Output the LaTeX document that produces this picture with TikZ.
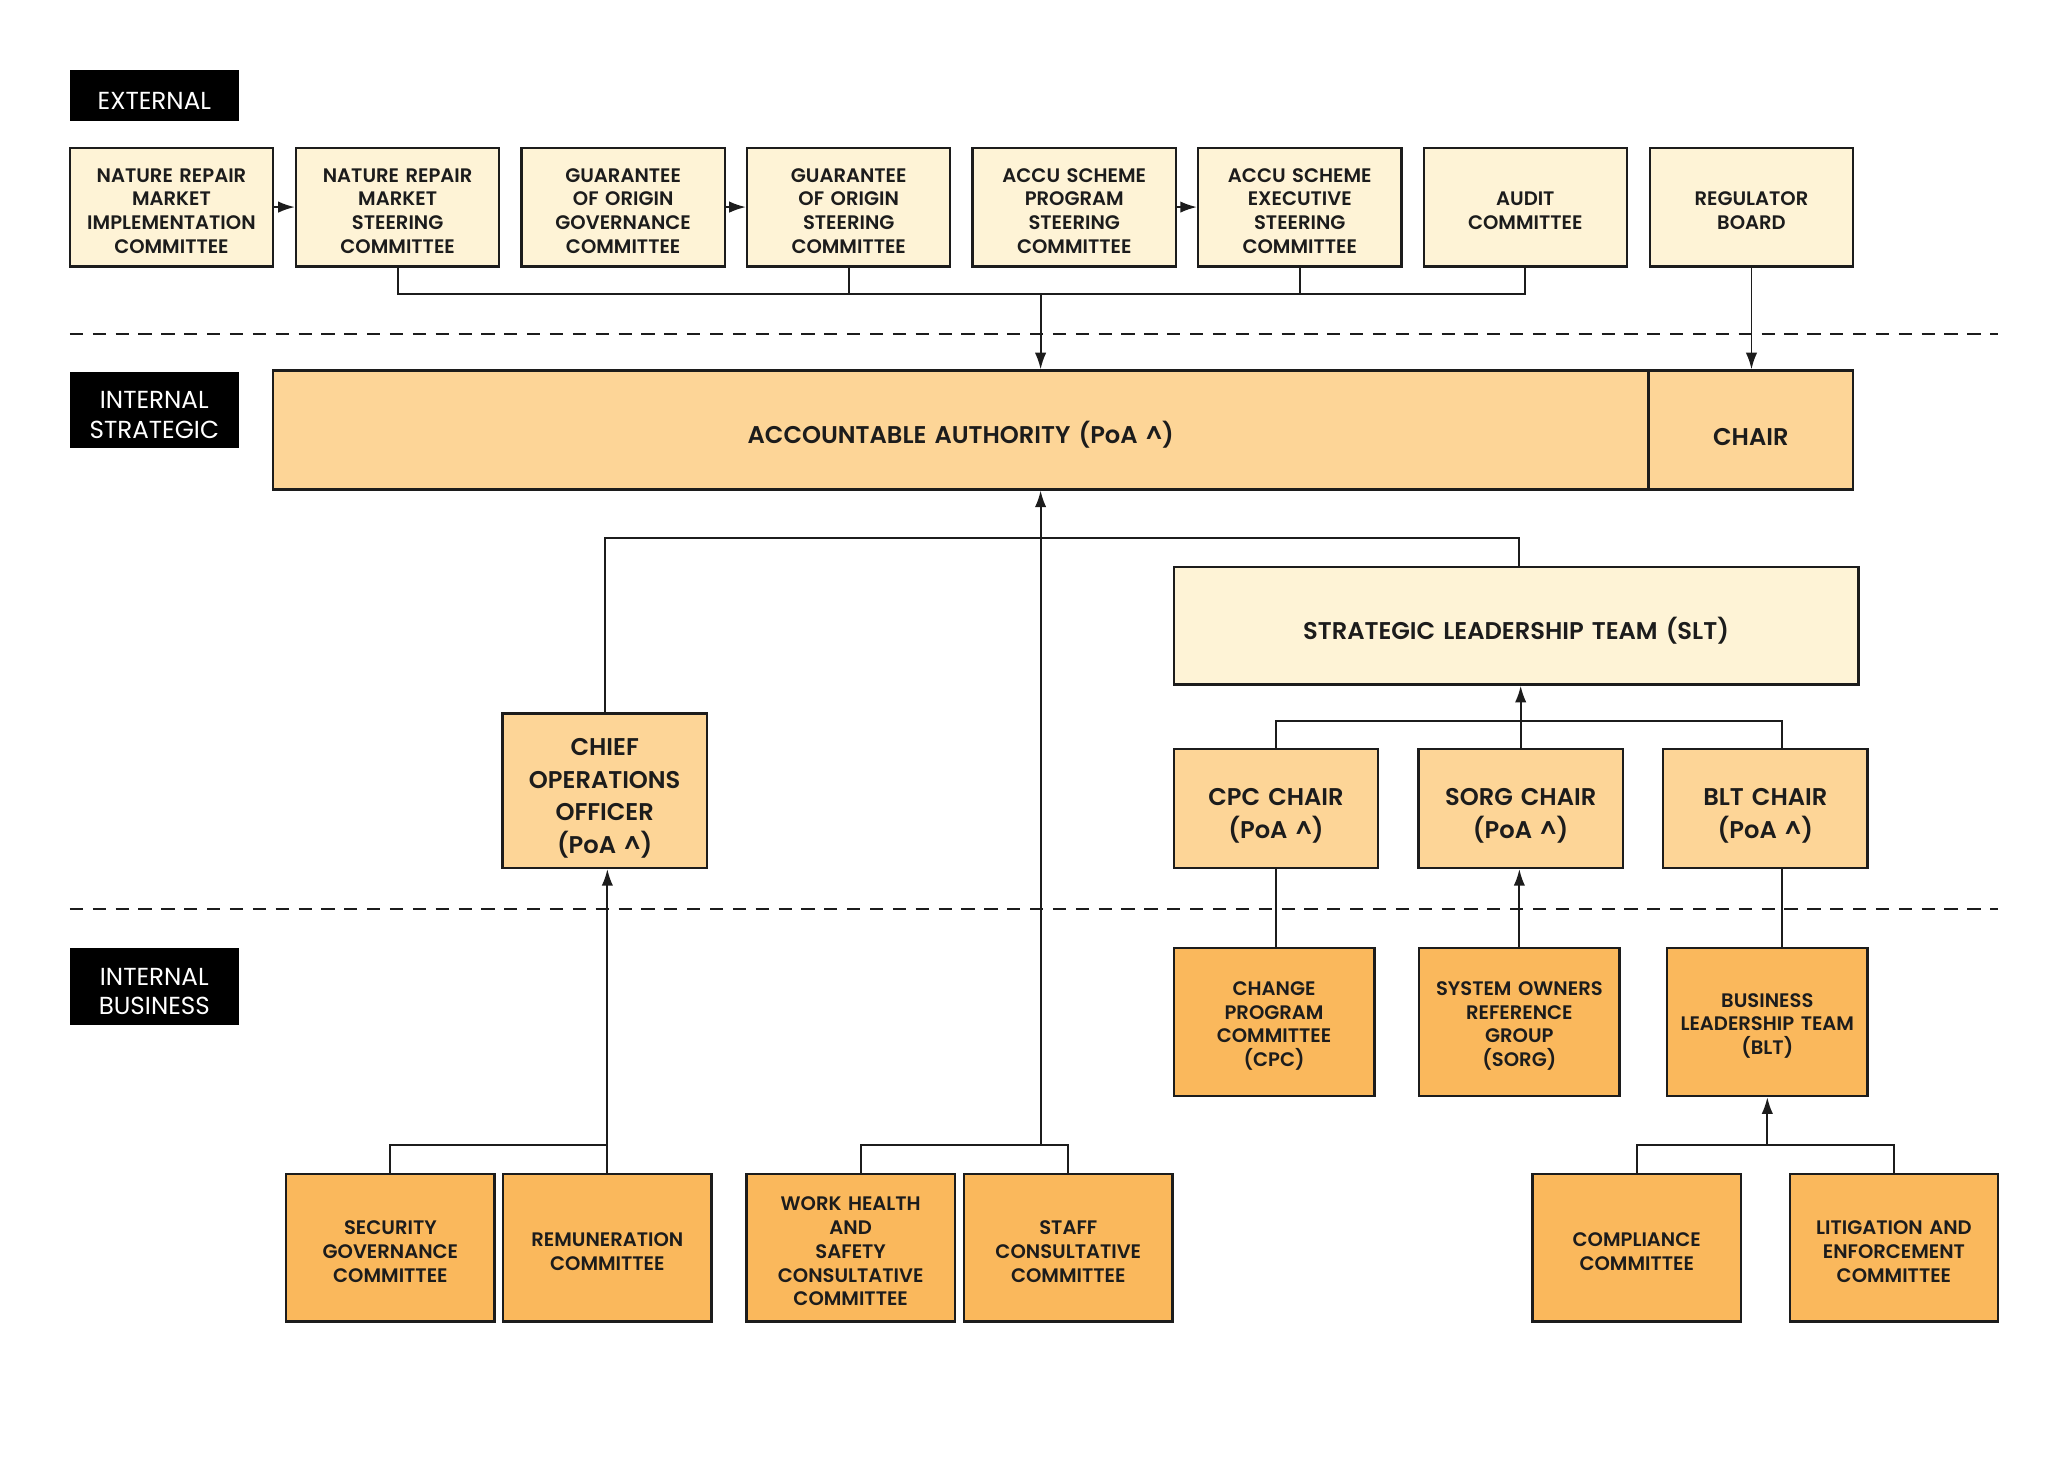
\documentclass[tikz,border=0pt]{standalone}
\usepackage{fontspec}
\setmainfont{Poppins}[BoldFont={Poppins SemiBold}]
\usepackage{xcolor}
\usepackage{tikz}
\usetikzlibrary{positioning}
\usetikzlibrary{arrows.meta}

\definecolor{cream}{HTML}{FEF3D6}
\definecolor{peach}{HTML}{FDD597}
\definecolor{amber}{HTML}{FAB85C}
\definecolor{ink}{HTML}{1C1C1C}
\newcommand{\sz}{0.6pt}

\tikzset{
  box/.style={rectangle, draw=ink, line width=1.1pt, align=center, text=ink,
    text width=140*\sz, inner sep=1pt,
    font=\fontsize{8.9}{10.8}\selectfont\bfseries,
    execute at begin node={\rule{0pt}{9.8pt}}},
  extbox/.style={box, fill=cream, minimum width=154*\sz, minimum height=90*\sz},
  bigbox/.style={box, font=\fontsize{11}{14.8}\selectfont\bfseries,
    execute at begin node={\rule{0pt}{14.6pt}}},
  lowbox/.style={box, fill=amber, minimum width=158*\sz, minimum height=112*\sz},
  tag/.style={rectangle, fill=black, text=white, align=center, minimum width=128*\sz,
    text width=120*\sz, inner sep=1pt, font=\fontsize{11.2}{13.2}\selectfont,
    execute at begin node={\rule{0pt}{12.2pt}}},
  link/.style={draw=ink, line width=0.9pt},
  >={Latex[length=7.6pt, width=5.2pt]}
}

\begin{document}
\begin{tikzpicture}[x=\sz, y=-\sz]
  \useasboundingbox (0,0) rectangle (1568,1109);

  % Level tags and separators
  \node[tag, minimum height=39*\sz, execute at begin node={\rule{0pt}{11.4pt}}] (tagext) at (117,72.5) {EXTERNAL};
  \node[tag, minimum height=58*\sz] (tagstr) at (117,311) {INTERNAL\\STRATEGIC};
  \node[tag, minimum height=58*\sz] (tagbus) at (117,748) {INTERNAL\\BUSINESS};
  \draw[link, dashed, dash pattern=on 6pt off 4.4pt] (53,253) -- (1515,253);
  \draw[link, dashed, dash pattern=on 6pt off 4.4pt] (53,689) -- (1515,689);

  % External committees
  \node[extbox] (nrmi) at (130,157) {NATURE REPAIR\\MARKET\\IMPLEMENTATION\\COMMITTEE};
  \node[extbox] (nrms) at (301.5,157) {NATURE REPAIR\\MARKET\\STEERING\\COMMITTEE};
  \node[extbox] (goog) at (472.5,157) {GUARANTEE\\OF ORIGIN\\GOVERNANCE\\COMMITTEE};
  \node[extbox] (goos) at (643.5,157) {GUARANTEE\\OF ORIGIN\\STEERING\\COMMITTEE};
  \node[extbox] (accp) at (814.5,157) {ACCU SCHEME\\PROGRAM\\STEERING\\COMMITTEE};
  \node[extbox] (acce) at (985.5,157) {ACCU SCHEME\\EXECUTIVE\\STEERING\\COMMITTEE};
  \node[extbox] (audit) at (1156.5,157) {AUDIT\\COMMITTEE};
  \node[extbox] (regb) at (1328,157) {REGULATOR\\BOARD};

  % Strategic level
  \node[bigbox, fill=peach, text width=600*\sz, minimum width=1043*\sz, minimum height=90*\sz] (aa) at (728.5,326) {ACCOUNTABLE AUTHORITY (PoA \textasciicircum)};
  \node[bigbox, fill=peach, minimum width=155*\sz, minimum height=90*\sz, execute at begin node={\rule{0pt}{12.6pt}}] (chair) at (1327.5,326) {CHAIR};
  \node[bigbox, fill=cream, text width=500*\sz, minimum width=519*\sz, minimum height=89*\sz] (slt) at (1149.5,474.5) {STRATEGIC LEADERSHIP TEAM (SLT)};
  \node[bigbox, fill=peach, minimum width=155*\sz, minimum height=117*\sz] (coo) at (458.5,599.5) {CHIEF\\OPERATIONS\\OFFICER\\(PoA \textasciicircum)};
  \node[bigbox, fill=peach, minimum width=155*\sz, minimum height=90*\sz] (cpcchair) at (967.5,613) {CPC CHAIR\\(PoA \textasciicircum)};
  \node[bigbox, fill=peach, minimum width=155*\sz, minimum height=90*\sz] (sorgchair) at (1153,613) {SORG CHAIR\\(PoA \textasciicircum)};
  \node[bigbox, fill=peach, minimum width=155*\sz, minimum height=90*\sz] (bltchair) at (1338.5,613) {BLT CHAIR\\(PoA \textasciicircum)};

  % Business level
  \node[lowbox, minimum width=152*\sz] (cpc) at (966,775) {CHANGE\\PROGRAM\\COMMITTEE\\(CPC)};
  \node[lowbox, minimum width=152*\sz] (sorg) at (1152,775) {SYSTEM OWNERS\\REFERENCE\\GROUP\\(SORG)};
  \node[lowbox, minimum width=152*\sz] (blt) at (1340,775) {BUSINESS\\LEADERSHIP TEAM\\(BLT)};
  \node[lowbox] (sec) at (296,946) {SECURITY\\GOVERNANCE\\COMMITTEE};
  \node[lowbox] (rem) at (460.5,946) {REMUNERATION\\COMMITTEE};
  \node[lowbox] (whs) at (645,946) {WORK HEALTH\\AND\\SAFETY\\CONSULTATIVE\\COMMITTEE};
  \node[lowbox] (staff) at (810,946) {STAFF\\CONSULTATIVE\\COMMITTEE};
  \node[lowbox] (comp) at (1241,946) {COMPLIANCE\\COMMITTEE};
  \node[lowbox] (lit) at (1436,946) {LITIGATION AND\\ENFORCEMENT\\COMMITTEE};

  % Bus points
  \coordinate (topbus) at (789,223);
  \coordinate (aabus) at (789,408);
  \coordinate (sltbus) at (1153,547);
  \coordinate (coobus) at (460.5,868);
  \coordinate (whsbus) at (789,868);
  \coordinate (bltbus) at (1340,868);

  % External links
  \draw[link, ->] (nrmi) -- (nrms);
  \draw[link, ->] (goog) -- (goos);
  \draw[link, ->] (accp) -- (acce);
  \draw[link] (nrms.south) |- (topbus);
  \draw[link] (audit.south) |- (topbus);
  \draw[link] (goos.south) -- (goos.south |- topbus);
  \draw[link] (acce.south) -- (acce.south |- topbus);
  \draw[link, ->] (topbus) -- (topbus |- aa.north);
  \draw[link, ->] (regb.south) -- (regb.south |- chair.north);

  % Strategic links
  \draw[link] (coo.north) |- (aabus);
  \draw[link] ([xshift=2.5*\sz]slt.north) |- (aabus);
  \draw[link] (cpcchair.north) |- (sltbus) -| ([xshift=12.5*\sz]bltchair.north);
  \draw[link, ->] (sorgchair.north) -- (sorgchair.north |- slt.south);

  % Business links
  \draw[link] (cpcchair.south) -- (cpcchair.south |- cpc.north);
  \draw[link, ->] (sorg.north) -- (sorg.north |- sorgchair.south);
  \draw[link] ([xshift=12.5*\sz]bltchair.south) -- ([xshift=12.5*\sz]bltchair.south |- blt.north);
  \draw[link] (sec.north) |- (coobus);
  \draw[link, ->] (rem.north) -- (rem.north |- coo.south);
  \draw[link] ([xshift=8*\sz]whs.north) |- (whsbus) -| (staff.north);
  \draw[link, ->] (whsbus) -- (whsbus |- aa.south);
  \draw[link] (comp.north) |- (bltbus) -| (lit.north);
  \draw[link, ->] (bltbus) -- (bltbus |- blt.south);
\end{tikzpicture}
\end{document}
